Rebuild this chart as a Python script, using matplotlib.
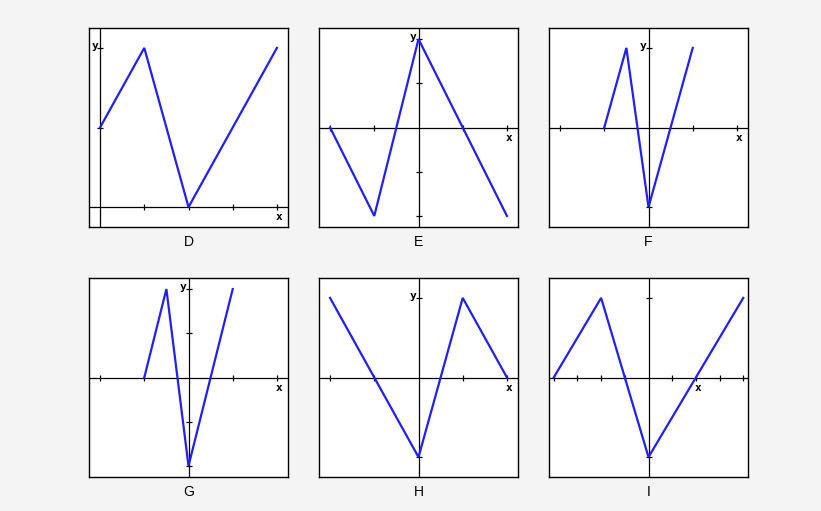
import matplotlib
matplotlib.use("Agg")
import matplotlib.pyplot as plt

# ---- data ----
panel_names = ["D", "E", "F", "G", "H", "I"]

D_x = [0, 1, 2, 4]
D_y = [1, 2, 0, 2]
E_x = [-2, -1, 0, 2]
E_y = [0, -2, 2, -2]
F_x = [-1, -0.5, 0, 1]
F_y = [0, 1, -1, 1]
G_x = [-1, -0.5, 0, 1]
G_y = [0, 2, -2, 2]
H_x = [-2, 0, 1, 2]
H_y = [1, -1, 1, 0]
I_x = [-4, -2, 0, 4]
I_y = [0, 1, -1, 1]

series_x = [D_x, E_x, F_x, G_x, H_x, I_x]
series_y = [D_y, E_y, F_y, G_y, H_y, I_y]

x_ticks = [[1, 2, 3, 4], [-2, -1, 1, 2], [-2, -1, 1, 2],
           [-2, -1, 1, 2], [-2, -1, 1, 2], [-4, -3, -2, -1, 1, 2, 3, 4]]
y_ticks = [[1, 2], [-2, -1, 1, 2], [-1, 1], [-2, -1, 1, 2], [-1, 1], [-1, 1]]

x_limits = [(-0.25, 4.25), (-2.25, 2.25), (-2.25, 2.25),
            (-2.25, 2.25), (-2.25, 2.25), (-4.2, 4.2)]
y_limits = [(-0.25, 2.25), (-2.25, 2.25), (-1.25, 1.25),
            (-2.25, 2.25), (-1.25, 1.25), (-1.25, 1.25)]

# where the 'x' label sits (x value) and the 'y' label (y value, None = no label)
x_label_at = [4, 2, 2, 2, 2, 2]
y_label_at = [2, 2, 1, 2, 1, None]

# ---- figure ----
W, H = 821, 511
fig = plt.figure(figsize=(W / 100, H / 100), dpi=100)
fig.patch.set_facecolor("#f4f4f4")

lefts = [89, 319, 549]
tops = [28, 278]
box = 199
blue = "#2020f0"

for i in range(6):
    r, c = divmod(i, 3)
    l = lefts[c]
    t = tops[r]
    ax = fig.add_axes([l / W, (H - t - box) / H, box / W, box / H])
    ax.set_facecolor("white")
    ax.set_xlim(*x_limits[i])
    ax.set_ylim(*y_limits[i])
    ax.set_xticks([])
    ax.set_yticks([])
    for s in ax.spines.values():
        s.set_linewidth(1.0)
        s.set_color("black")
    ax.axhline(0, color="black", lw=0.9, zorder=1)
    ax.axvline(0, color="black", lw=0.9, zorder=1)
    ax.plot(x_ticks[i], [0] * len(x_ticks[i]), ls="none", marker="|",
            ms=5, mew=0.9, color="black", zorder=1)
    ax.plot([0] * len(y_ticks[i]), y_ticks[i], ls="none", marker="_",
            ms=5, mew=0.9, color="black", zorder=1)
    ax.plot(series_x[i], series_y[i], color=blue, lw=1.6, zorder=3,
            solid_joinstyle="miter")
    ax.annotate("x", (x_label_at[i], 0), xytext=(2, -5),
                textcoords="offset pixels", ha="center", va="top",
                fontsize=8, fontweight="bold", family="DejaVu Sans Mono",
                zorder=4)
    if y_label_at[i] is not None:
        ax.annotate("y", (0, y_label_at[i]), xytext=(-2, 2),
                    textcoords="offset pixels", ha="right", va="center",
                    fontsize=8, fontweight="bold", family="DejaVu Sans Mono",
                    zorder=4)
    fig.text((l + box / 2) / W, 1 - (t + box + 15) / H, panel_names[i],
             ha="center", va="center", fontsize=10, family="Liberation Sans")

fig.savefig("out.png", dpi=100, facecolor=fig.get_facecolor())
